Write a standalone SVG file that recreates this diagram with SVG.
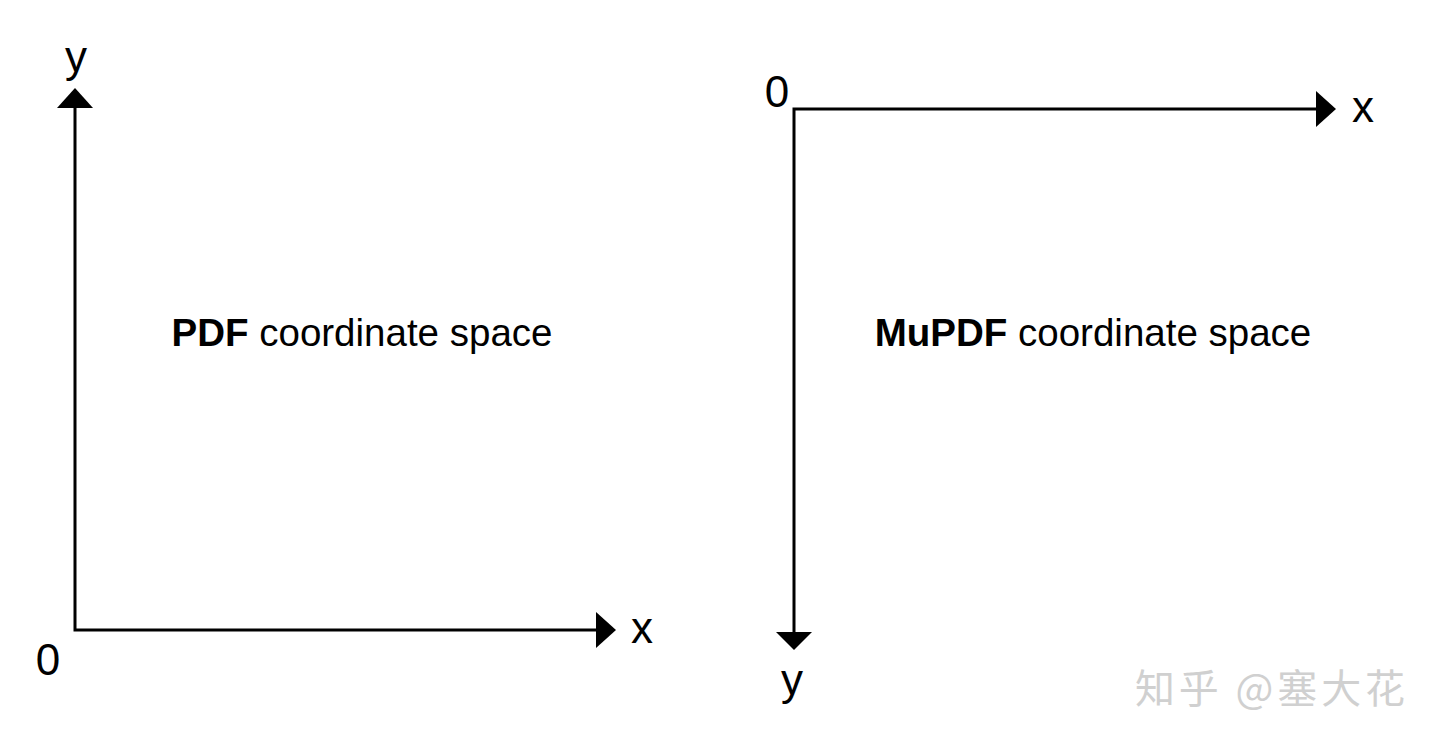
<svg xmlns="http://www.w3.org/2000/svg" width="1440" height="745" viewBox="0 0 1440 745">
<style>
.ax{stroke:#000;stroke-width:3;fill:none}
.lb{font-family:"Liberation Sans",Arial,sans-serif;font-size:44px;fill:#000}
.t{font-family:"Liberation Sans",Arial,sans-serif;font-size:38.5px;fill:#000}
</style>
<rect width="1440" height="745" fill="#fff"/>
<g id="connectors">
<path class="ax" d="M75,106 V630 H598"/>
<polygon points="57,108 75,88 93,108"/>
<polygon points="596,612 616,630 596,648"/>
<path class="ax" d="M794,632 V109 H1318"/>
<polygon points="776,632 794,650 812,632"/>
<polygon points="1316,91 1336,109 1316,127"/>
</g>
<g id="pdf">
<text class="lb" x="76" y="72" text-anchor="middle">y</text>
<text class="lb" x="48" y="675" text-anchor="middle">0</text>
<text class="lb" x="642" y="643" text-anchor="middle">x</text>
<text class="t" x="362" y="346" text-anchor="middle"><tspan font-weight="bold">PDF</tspan> coordinate space</text>
</g>
<g id="mupdf">
<text class="lb" x="777" y="107" text-anchor="middle">0</text>
<text class="lb" x="1363" y="122" text-anchor="middle">x</text>
<text class="lb" x="792" y="695" text-anchor="middle">y</text>
<text class="t" x="1093" y="346" text-anchor="middle"><tspan font-weight="bold">MuPDF</tspan> coordinate space</text>
</g>
<text x="1135" y="703" font-family="'Noto Sans CJK SC',sans-serif" font-size="40" textLength="270" fill="#d0d0d0">知乎 @塞大花</text>
</svg>
